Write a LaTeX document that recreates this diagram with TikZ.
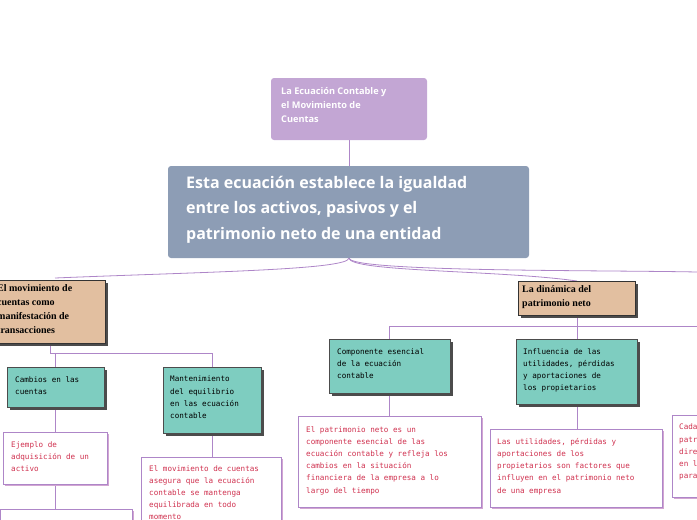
\documentclass[tikz,border=0pt]{standalone}
\usepackage{fontspec}
\setmainfont{Liberation Serif}
\newfontfamily\titf{Open Sans}
\newfontfamily\monof{DejaVu Sans Mono}
\begin{document}
\begin{tikzpicture}[x=1pt,y=-1pt,
  conn/.style={draw=connc,line width=0.8pt},
  mono/.style={font=\monof\fontsize{7.6}{12.2}\selectfont,align=left,anchor=north west,inner sep=0pt},
  redt/.style={mono,text=redc}]
\definecolor{tealc}{HTML}{7ECDC0}
\definecolor{brownc}{HTML}{E2BFA0}
\definecolor{purc}{HTML}{C3A6D4}
\definecolor{bluc}{HTML}{8D9DB5}
\definecolor{redc}{HTML}{D0314F}
\definecolor{connc}{HTML}{AE86C8}
\useasboundingbox (0,0) rectangle (697,520);
\clip (0,0) rectangle (697,520);
% connectors
\coordinate (t1) at (349,140); \coordinate (m1) at (349,166);
\draw[conn] (t1) -- (m1);
\draw[conn] (349,258) .. controls (349,270) and (200,272) .. (55,278);
\draw[conn] (349,258) .. controls (349,272) and (500,270) .. (577,281);
\draw[conn] (349,258) .. controls (349,272) and (600,270) .. (697,272);
\draw[conn] (50,343) -- (50,353) -- (212,353) -- (212,367);
\draw[conn] (55,353) -- (55,367);
\draw[conn] (55,407) -- (55,432);
\draw[conn] (55,484) -- (55,509);
\draw[conn] (212,433) -- (212,457);
\draw[conn] (577,315) -- (577,326);
\draw[conn] (389,339) -- (389,326) -- (697,326);
\draw[conn] (577,326) -- (577,339);
\draw[conn] (389,393) -- (389,416);
\draw[conn] (577,404) -- (577,429);
% title
\fill[purc,rounded corners=3pt] (271,78) rectangle (427,140);
\node[text=white,font=\titf\bfseries\fontsize{9.2}{14}\selectfont,align=left,anchor=north west,inner sep=0pt] (title) at (281,87) {La Ecuación Contable y\\el Movimiento de\\Cuentas};
\fill[bluc,rounded corners=3pt] (168,166) rectangle (529,258);
\node[text=white,font=\titf\bfseries\fontsize{16}{25.5}\selectfont,align=left,anchor=north west,inner sep=0pt] (main) at (186,176) {Esta ecuación establece la igualdad\\entre los activos, pasivos y el\\patrimonio neto de una entidad};
% brown boxes
\newcommand\shbox[5]{\fill[black!70] (#1+3,#2+3) rectangle (#3+3,#4+3); \filldraw[#5] (#1,#2) rectangle (#3,#4);}
\shbox{-5}{280}{105}{343}{draw=black!80,fill=brownc,line width=0.6pt}
\node[font=\bfseries\fontsize{10}{14}\selectfont,align=left,anchor=north west,inner sep=0pt] (b1) at (-3,284) {El movimiento de\\cuentas como\\manifestación de\\transacciones};
\shbox{518}{281}{635}{315}{draw=black!80,fill=brownc,line width=0.6pt}
\node[font=\bfseries\fontsize{10}{14}\selectfont,align=left,anchor=north west,inner sep=0pt] (b2) at (522,285) {La dinámica del\\patrimonio neto};
% teal boxes
\shbox{7}{367}{104}{407}{draw=black!70,fill=tealc,line width=0.6pt}
\node[mono] (ta) at (15,376) {Cambios en las\\cuentas};
\shbox{163}{367}{261}{433}{draw=black!70,fill=tealc,line width=0.6pt}
\node[mono] (tb) at (170,376) {Mantenimiento\\del equilibrio\\en las ecuación\\contable};
\shbox{329}{339}{450}{393}{draw=black!70,fill=tealc,line width=0.6pt}
\node[mono] (tc) at (337,348) {Componente esencial\\de la ecuación\\contable};
\shbox{516}{339}{637}{404}{draw=black!70,fill=tealc,line width=0.6pt}
\node[mono] (td) at (523,348) {Influencia de las\\utilidades, pérdidas\\y aportaciones de\\los propietarios};
% white boxes
\newcommand\wbox[4]{\fill[violet!35] (#1+2,#2+2) rectangle (#3+2,#4+2); \filldraw[draw=connc,fill=white,line width=0.6pt] (#1,#2) rectangle (#3,#4);}
\wbox{3}{432}{107}{484}
\node[redt] (wa) at (11,441) {Ejemplo de\\adquisición de un\\activo};
\wbox{0}{509}{132}{530}
\wbox{141}{457}{281}{530}
\node[redt] (wb) at (149,465) {El movimiento de cuentas\\asegura que la ecuación\\contable se mantenga\\equilibrada en todo\\momento};
\wbox{298}{416}{481}{507}
\node[redt] (we) at (306,426) {El patrimonio neto es un\\componente esencial de las\\ecuación contable y refleja los\\cambios en la situación\\financiera de la empresa a lo\\largo del tiempo};
\wbox{490}{429}{662}{507}
\node[redt] (wf) at (497,438) {Las utilidades, pérdidas y\\aportaciones de los\\propietarios son factores que\\influyen en el patrimonio neto\\de una empresa};
\wbox{672}{415}{720}{497}
\node[redt] (wg) at (679,424) {Cada\\patr\\dire\\en l\\para};
\end{tikzpicture}
\end{document}
